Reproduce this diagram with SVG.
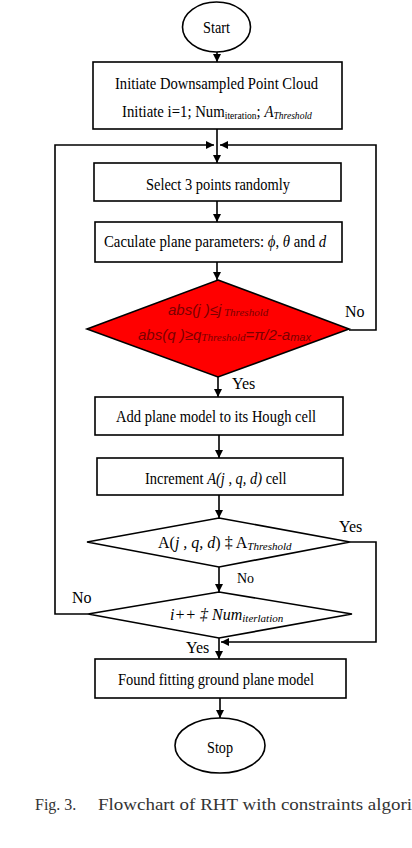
<svg xmlns="http://www.w3.org/2000/svg" width="412" height="848" viewBox="0 0 412 848">
<style>
  .box{fill:#fff;stroke:#000;stroke-width:1.6}
  .t{font-family:"Liberation Serif","Times New Roman",serif;font-size:17px;fill:#000}
  .it{font-style:italic}
  .sub{font-size:11px}
  .lab{font-family:"Liberation Serif","Times New Roman",serif;font-size:16px;fill:#000}
  .red{font-family:"Liberation Sans",Arial,sans-serif;font-style:italic;font-size:15px;fill:#7a0000}
  .con{fill:none;stroke:#000;stroke-width:1.6}
  .cap{font-family:"Liberation Serif","Times New Roman",serif;font-size:16px;fill:#333}
</style>
<defs>
  <marker id="ah" viewBox="0 0 10 10" refX="10" refY="5" markerWidth="8" markerHeight="8" markerUnits="userSpaceOnUse" orient="auto">
    <path d="M0,0 L10,5 L0,10 z" fill="#000"/>
  </marker>
</defs>

<g id="connectors">
  <line class="con" x1="217" y1="52" x2="217" y2="62" marker-end="url(#ah)"/>
  <line class="con" x1="217" y1="129" x2="217" y2="163" marker-end="url(#ah)"/>
  <line class="con" x1="217" y1="201" x2="217" y2="222" marker-end="url(#ah)"/>
  <line class="con" x1="217" y1="262" x2="217" y2="280" marker-end="url(#ah)"/>
  <line class="con" x1="218" y1="377" x2="218" y2="397" marker-end="url(#ah)"/>
  <line class="con" x1="219" y1="435" x2="219" y2="458" marker-end="url(#ah)"/>
  <line class="con" x1="219" y1="495" x2="219" y2="518" marker-end="url(#ah)"/>
  <line class="con" x1="219" y1="567" x2="219" y2="592" marker-end="url(#ah)"/>
  <line class="con" x1="219" y1="638" x2="219" y2="659" marker-end="url(#ah)"/>
  <line class="con" x1="220" y1="698" x2="220" y2="718" marker-end="url(#ah)"/>
  <polyline class="con" points="88,614 55,614 55,145 214,145" marker-end="url(#ah)"/>
  <polyline class="con" points="349,330 376,330 376,145 220,145" marker-end="url(#ah)"/>
  <polyline class="con" points="350,542 376,542 376,642 221,642" marker-end="url(#ah)"/>
  <text class="lab" x="345" y="317">No</text>
  <text class="lab" x="232" y="389">Yes</text>
  <text class="lab" x="339" y="532">Yes</text>
  <text class="lab" x="237" y="583" style="font-size:14px">No</text>
  <text class="lab" x="72" y="603">No</text>
  <text class="lab" x="186" y="653">Yes</text>
</g>

<g id="start">
  <ellipse class="box" cx="216.5" cy="27" rx="34" ry="25"/>
  <text class="t" x="203" y="33" textLength="27" lengthAdjust="spacingAndGlyphs">Start</text>
</g>

<g id="init">
  <rect class="box" x="93" y="62" width="249" height="67"/>
  <text class="t" x="115" y="89" textLength="203" lengthAdjust="spacingAndGlyphs">Initiate Downsampled Point Cloud</text>
  <text class="t" transform="translate(122,117) scale(0.87,1)">Initiate i=1; Num<tspan class="sub" dy="2">iteration</tspan><tspan dy="-2">; </tspan><tspan class="it">A</tspan><tspan class="sub it" dy="2">Threshold</tspan></text>
</g>

<g id="select">
  <rect class="box" x="94" y="163" width="247" height="38"/>
  <text class="t" x="146" y="190" textLength="144" lengthAdjust="spacingAndGlyphs">Select 3 points randomly</text>
</g>

<g id="calc">
  <rect class="box" x="95" y="222" width="247" height="40"/>
  <text class="t" transform="translate(104,247) scale(0.87,1)">Caculate plane parameters: <tspan class="it">ϕ</tspan>, <tspan class="it">θ</tspan> and <tspan class="it">d</tspan></text>
</g>

<g id="constraint">
  <polygon points="218,280 349,329 218,377 87,329" fill="#ff0000" stroke="#000" stroke-width="1.6"/>
  <text class="red" x="168" y="315">abs(j )≤j<tspan class="sub" dy="1" style="font-family:'Liberation Serif',serif"> Threshold</tspan></text>
  <text class="red" x="138" y="340">abs(q )≥q<tspan class="sub" dy="1" style="font-family:'Liberation Serif',serif">Threshold</tspan><tspan dy="-1">=π/2-a</tspan><tspan class="sub" dy="1">max</tspan></text>
</g>

<g id="addplane">
  <rect class="box" x="95" y="397" width="248" height="38"/>
  <text class="t" x="116" y="422" textLength="200" lengthAdjust="spacingAndGlyphs">Add plane model to its Hough cell</text>
</g>

<g id="increment">
  <rect class="box" x="97" y="458" width="246" height="37"/>
  <text class="t" transform="translate(145,484) scale(0.85,1)">Increment <tspan class="it">A(j , q, d)</tspan> cell</text>
</g>

<g id="check-threshold">
  <polygon class="box" points="219,518 350,542 219,567 87,542"/>
  <text class="t" x="158" y="548" style="font-size:16px"><tspan>A(</tspan><tspan class="it">j , q, d</tspan><tspan>) ‡ A</tspan><tspan class="sub it" dy="2">Threshold</tspan></text>
</g>

<g id="check-iteration">
  <polygon class="box" points="219,592 352,614 219,638 88,614"/>
  <text class="t it" x="170" y="620" style="font-size:16px">i++ ‡ Num<tspan class="sub" dy="2">iterlation</tspan></text>
</g>

<g id="found">
  <rect class="box" x="95" y="659" width="251" height="39"/>
  <text class="t" x="118" y="685" textLength="196" lengthAdjust="spacingAndGlyphs">Found fitting ground plane model</text>
</g>

<g id="stop">
  <ellipse class="box" cx="220" cy="745.5" rx="45" ry="27.5"/>
  <text class="t" x="207" y="753" textLength="26" lengthAdjust="spacingAndGlyphs">Stop</text>
</g>

<text class="cap" x="35" y="810">Fig. 3.</text>
<text class="cap" x="98" y="810" textLength="314" lengthAdjust="spacingAndGlyphs">Flowchart of RHT with constraints algori</text>
</svg>
